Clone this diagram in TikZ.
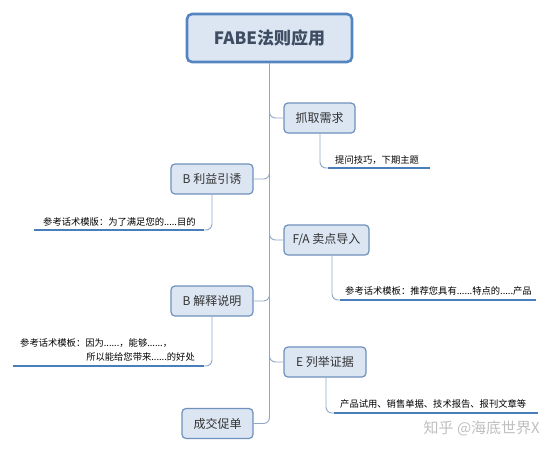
\documentclass[tikz,border=0pt]{standalone}
\usepackage{fontspec}
\setmainfont{Noto Sans CJK SC}
\definecolor{boxfill}{HTML}{DCE6F2}
\definecolor{boxline}{HTML}{6E90BC}
\definecolor{rootline}{HTML}{5585C0}
\definecolor{connline}{HTML}{8FA7C5}
\definecolor{ulcol}{HTML}{4A7EBB}
\definecolor{txt}{HTML}{333333}
\definecolor{roottxt}{HTML}{3E4D63}
\begin{document}
\begin{tikzpicture}[x=1pt,y=-1pt,
  rootbox/.style={draw=rootline, line width=2.6pt, fill=boxfill, rounded corners=5pt,
    minimum width=165pt, minimum height=48pt, inner sep=0pt, font=\fontsize{17}{20}\selectfont\bfseries, text=roottxt},
  childbox/.style={draw=boxline, line width=1.2pt, fill=boxfill, rounded corners=4pt,
    minimum height=30pt, inner sep=0pt, font=\fontsize{12}{14}\selectfont, text=txt},
  conn/.style={draw=connline, line width=0.9pt, rounded corners=6pt},
  uline/.style={draw=ulcol, line width=2.4pt},
  subtxt/.style={font=\fontsize{9.3}{11}\selectfont, text=black, inner sep=0pt}
]
\useasboundingbox (0,0) rectangle (554,451);

\node[rootbox] (root) at (269.5,38) {FABE法则应用};

\node[childbox, minimum width=71pt] (n1) at (319.5,118) {抓取需求};
\node[childbox, minimum width=82pt] (n2) at (212,179) {B 利益引诱};
\node[childbox, minimum width=85pt] (n3) at (326.5,240) {F/A 卖点导入};
\node[childbox, minimum width=82pt] (n4) at (212,301) {B 解释说明};
\node[childbox, minimum width=82pt] (n5) at (325,362) {E 列举证据};
\node[childbox, minimum width=71pt] (n6) at (217.5,423.5) {成交促单};

% trunk connectors
\draw[conn] (root.south) |- (n1.west);
\draw[conn] (root.south) |- (n2.east);
\draw[conn] (root.south) |- (n3.west);
\draw[conn] (root.south) |- (n4.east);
\draw[conn] (root.south) |- (n5.west);
\draw[conn] (root.south) |- (n6.east);

% sub-topics
\coordinate (c1) at (320,168); \coordinate (u1) at (328,168); \coordinate (e1) at (430,168);
\coordinate (c2) at (212,230); \coordinate (u2) at (204,230); \coordinate (e2) at (34,230);
\coordinate (c3) at (332,300); \coordinate (u3) at (340,300); \coordinate (e3) at (536,300);
\coordinate (c4) at (212,366); \coordinate (u4) at (204,366); \coordinate (e4) at (13,366);
\coordinate (c5) at (326,413); \coordinate (u5) at (334,413); \coordinate (e5) at (538,413);

\draw[conn] (n1.south -| c1) |- (u1); \draw[uline] (u1) -- (e1);
\draw[conn] (n2.south -| c2) |- (u2); \draw[uline] (u2) -- (e2);
\draw[conn] (n3.south -| c3) |- (u3); \draw[uline] (u3) -- (e3);
\draw[conn] (n4.south -| c4) |- (u4); \draw[uline] (u4) -- (e4);
\draw[conn] (n5.south -| c5) |- (u5); \draw[uline] (u5) -- (e5);

\node[subtxt, anchor=west] (t1) at (335,160) {提问技巧，下期主题};
\node[subtxt, anchor=west] (t2) at (43,222) {参考话术模版：为了满足您的.....目的};
\node[subtxt, anchor=west] (t3) at (345,291) {参考话术模板：推荐您具有......特点的.....产品};
\node[subtxt, anchor=west] (t4a) at (20,343) {参考话术模板：因为......，能够......，};
\node[subtxt, anchor=east] (t4b) at (195,357) {所以能给您带来......的好处};
\node[subtxt, anchor=west] (t5) at (340,404) {产品试用、销售单据、技术报告、报刊文章等};

\node[font=\fontsize{15}{18}\selectfont, text=black!25, anchor=east, inner sep=0pt] (wm) at (540,428) {知乎 @海底世界X};
\end{tikzpicture}
\end{document}
